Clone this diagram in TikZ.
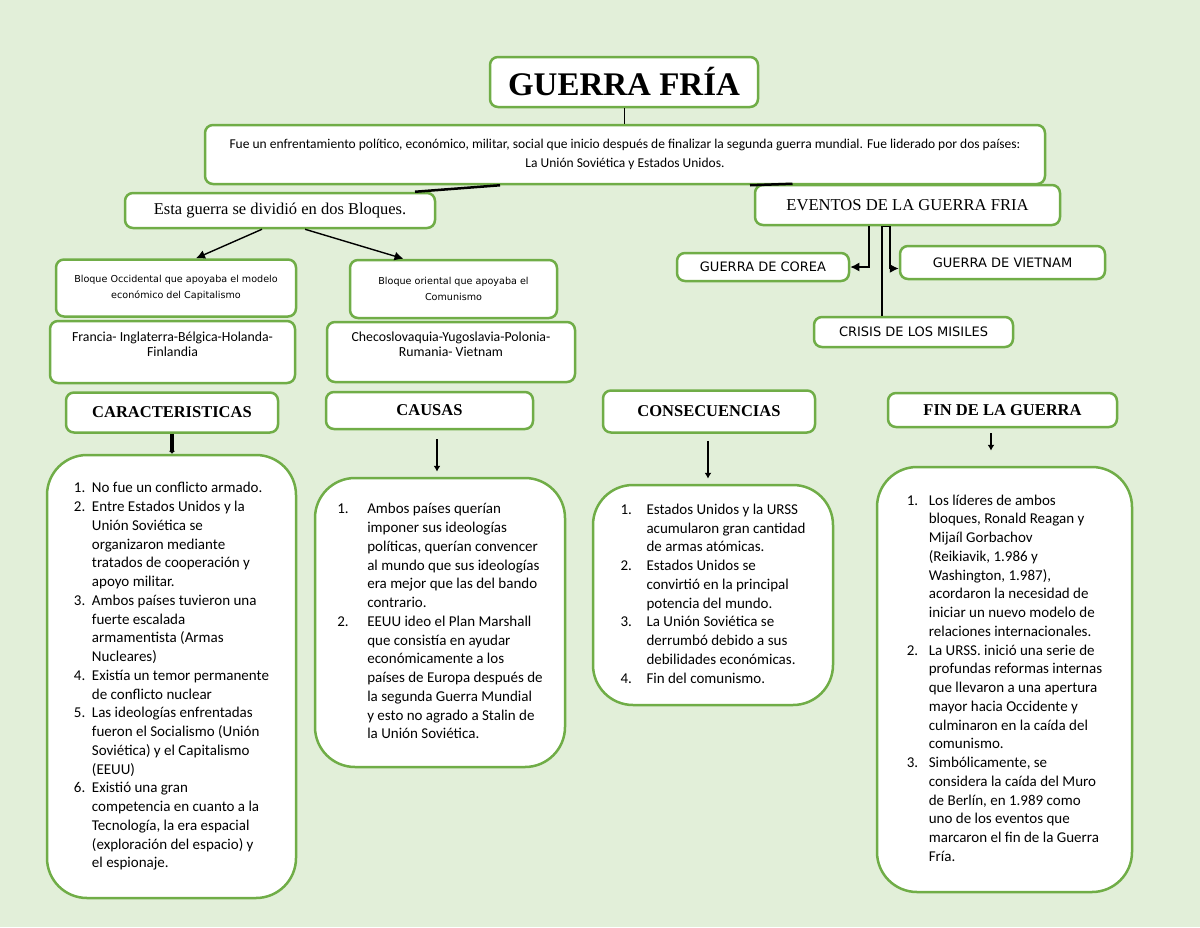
\documentclass[tikz,border=0pt]{standalone}
\usepackage{fontspec}
\setmainfont{Liberation Serif}
\newfontfamily\carlfont{Carlito}
\newfontfamily\dejafont{DejaVu Sans}
\usetikzlibrary{arrows.meta}

\definecolor{bggreen}{HTML}{E2EFD9}
\definecolor{boxgreen}{HTML}{70AD47}

\tikzset{
  gbox/.style={draw=boxgreen, line width=2.5pt, fill=white, rounded corners=8pt,
    align=center, inner sep=0pt},
  listbox/.style={gbox, rounded corners=40pt},
  headbox/.style={gbox, font=\fontsize{16.5}{18}\selectfont\bfseries},
  capsbox/.style={gbox, font=\dejafont\fontsize{13}{15}\selectfont},
  downarrow/.style={line width=2.5pt, -{Latex[length=6pt,width=7pt]}},
  thinarrow/.style={line width=1.4pt, -{Latex[length=9pt,width=9pt]}}
}
\newcommand{\listfont}{\carlfont\fontsize{15}{18.75}\selectfont}

\begin{document}
\begin{tikzpicture}[x=1pt,y=-1pt]
  \fill[bggreen] (0,0) rectangle (1200,927);

  % top
  \node[gbox, minimum width=268pt, minimum height=50pt] (title) at (624,82)
    {\fontsize{33}{36}\selectfont\bfseries GUERRA FRÍA};
  \node[gbox, minimum width=840pt, minimum height=59pt,
    font=\carlfont\fontsize{13.5}{19}\selectfont] (desc) at (625,154.5)
    {Fue un enfrentamiento político, económico, militar, social que inicio después de finalizar la segunda guerra mundial. Fue liderado por dos países:\\
     La Unión Soviética y Estados Unidos.};
  \draw[line width=0.8pt] (title.south) -- (title.south |- desc.north);

  % bloques
  \node[gbox, minimum width=310pt, minimum height=35pt, font=\fontsize{16.5}{18}\selectfont]
    (bloq) at (280,210.5) {Esta guerra se dividió en dos Bloques.};
  \draw[line width=2.5pt] ([xshift=-125pt]desc.south) -- ([xshift=135pt]bloq.north);

  \node[gbox, minimum width=240pt, minimum height=57pt,
    font=\dejafont\fontsize{9.6}{16}\selectfont] (occ) at (176,288)
    {Bloque Occidental que apoyaba el modelo\\ económico del Capitalismo};
  \node[gbox, minimum width=207pt, minimum height=58pt,
    font=\dejafont\fontsize{9.6}{16}\selectfont] (ori) at (453.5,289)
    {Bloque oriental que apoyaba el\\ Comunismo};
  \draw[thinarrow] ([xshift=-18pt]bloq.south) -- ([xshift=20pt]occ.north);
  \draw[thinarrow] ([xshift=25pt]bloq.south) -- ([xshift=-50pt]ori.north);

  \node[gbox, minimum width=245pt, minimum height=62pt,
    font=\carlfont\fontsize{13.8}{15}\selectfont] (fra) at (172.5,352)
    {Francia- Inglaterra-Bélgica-Holanda-\\ Finlandia\\ \mbox{}};
  \node[gbox, minimum width=248pt, minimum height=60pt,
    font=\carlfont\fontsize{13.8}{15}\selectfont] (checo) at (451,352)
    {Checoslovaquia-Yugoslavia-Polonia-\\ Rumania- Vietnam\\ \mbox{}};

  % eventos
  \node[gbox, minimum width=305pt, minimum height=40pt, font=\fontsize{16.6}{18}\selectfont]
    (eventos) at (907.5,205) {EVENTOS DE LA GUERRA FRIA};
  \draw[line width=2.5pt] ([xshift=125pt]desc.south) -- ([xshift=-115pt]eventos.north);

  \node[capsbox, minimum width=172pt, minimum height=28pt] (corea) at (763,267) {GUERRA DE COREA};
  \node[capsbox, minimum width=205pt, minimum height=33pt] (vietnam) at (1002.5,262.5) {GUERRA DE VIETNAM};
  \node[capsbox, minimum width=199pt, minimum height=30pt] (crisis) at (913.5,332) {CRISIS DE LOS MISILES};
  \draw[thinarrow] ([xshift=-38.5pt]eventos.south) |- (corea.east);
  \draw[thinarrow] ([xshift=-25.5pt]eventos.south) -- ([xshift=-17.5pt]eventos.south) |- ([yshift=-6pt]vietnam.west);
  \draw[line width=1.2pt] ([xshift=-25.5pt]eventos.south) -- ([xshift=-31.5pt]crisis.north);

  % headings
  \node[headbox, minimum width=212pt, minimum height=40pt] (carh) at (172,412.5) {CARACTERISTICAS};
  \node[headbox, minimum width=207pt, minimum height=37pt] (cauh) at (429.5,410.5) {CAUSAS};
  \node[headbox, minimum width=212pt, minimum height=42pt] (conh) at (709,411.5) {CONSECUENCIAS};
  \node[headbox, minimum width=229pt, minimum height=34pt] (finh) at (1002.5,410) {FIN DE LA GUERRA};

  % lists
  \node[listbox, minimum width=249pt, minimum height=443pt] (carl) at (171.5,676.5) {\listfont
    \begin{tabular}{@{}p{18pt}@{}l@{}}
      1. & No fue un conflicto armado.\\
      2. & Entre Estados Unidos y la\\
         & Unión Soviética se\\
         & organizaron mediante\\
         & tratados de cooperación y\\
         & apoyo militar.\\
      3. & Ambos países tuvieron una\\
         & fuerte escalada\\
         & armamentista (Armas\\
         & Nucleares)\\
      4. & Existía un temor permanente\\
         & de conflicto nuclear\\
      5. & Las ideologías enfrentadas\\
         & fueron el Socialismo (Unión\\
         & Soviética) y el Capitalismo\\
         & (EEUU)\\
      6. & Existió una gran\\
         & competencia en cuanto a la\\
         & Tecnología, la era espacial\\
         & (exploración del espacio) y\\
         & el espionaje.
    \end{tabular}};
  \node[listbox, minimum width=250pt, minimum height=289pt] (caul) at (440,622.5) {\listfont
    \begin{tabular}{@{}p{30pt}@{}l@{}}
      1. & Ambos países querían\\
         & imponer sus ideologías\\
         & políticas, querían convencer\\
         & al mundo que sus ideologías\\
         & era mejor que las del bando\\
         & contrario.\\
      2. & EEUU ideo el Plan Marshall\\
         & que consistía en ayudar\\
         & económicamente a los\\
         & países de Europa después de\\
         & la segunda Guerra Mundial\\
         & y esto no agrado a Stalin de\\
         & la Unión Soviética.
    \end{tabular}};
  \node[listbox, minimum width=240pt, minimum height=220pt] (conl) at (713,595) {\listfont
    \begin{tabular}{@{}p{26pt}@{}l@{}}
      1. & Estados Unidos y la URSS\\
         & acumularon gran cantidad\\
         & de armas atómicas.\\
      2. & Estados Unidos se\\
         & convirtió en la principal\\
         & potencia del mundo.\\
      3. & La Unión Soviética se\\
         & derrumbó debido a sus\\
         & debilidades económicas.\\
      4. & Fin del comunismo.
    \end{tabular}};
  \node[listbox, minimum width=255pt, minimum height=425pt] (finl) at (1004.5,679.5) {\listfont
    \begin{tabular}{@{}p{22pt}@{}l@{}}
      1. & Los líderes de ambos\\
         & bloques, Ronald Reagan y\\
         & Mijaíl Gorbachov\\
         & (Reikiavik, 1.986 y\\
         & Washington, 1.987),\\
         & acordaron la necesidad de\\
         & iniciar un nuevo modelo de\\
         & relaciones internacionales.\\
      2. & La URSS. inició una serie de\\
         & profundas reformas internas\\
         & que llevaron a una apertura\\
         & mayor hacia Occidente y\\
         & culminaron en la caída del\\
         & comunismo.\\
      3. & Simbólicamente, se\\
         & considera la caída del Muro\\
         & de Berlín, en 1.989 como\\
         & uno de los eventos que\\
         & marcaron el fin de la Guerra\\
         & Fría.
    \end{tabular}};

  % heading arrows
  \draw[line width=4pt, -{Latex[length=3pt,width=7pt]}] (carh.south) -- (carh.south |- carl.north);
  \draw[downarrow, shorten <=9pt, shorten >=5pt] ([xshift=7.5pt]cauh.south) -- ([xshift=7.5pt]cauh.south |- caul.north);
  \draw[downarrow, shorten <=7pt, shorten >=5pt] ([xshift=-1pt]conh.south) -- ([xshift=-1pt]conh.south |- conl.north);
  \draw[downarrow, shorten <=5pt, shorten >=15pt] ([xshift=-11.5pt]finh.south) -- ([xshift=-11.5pt]finh.south |- finl.north);
\end{tikzpicture}
\end{document}
